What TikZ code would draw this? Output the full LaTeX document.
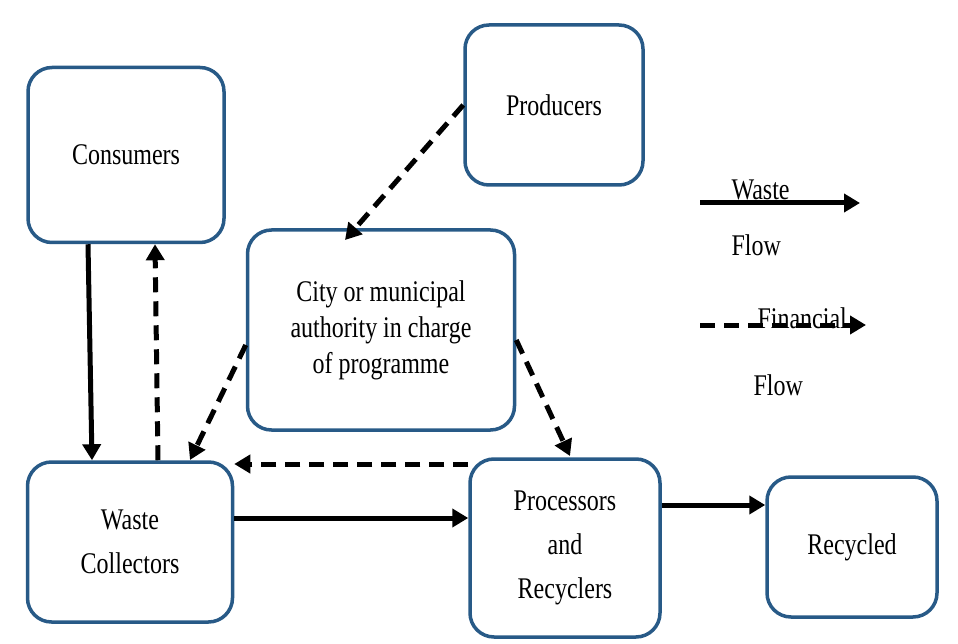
\documentclass[tikz,border=0pt]{standalone}
\usepackage{fontspec}
\setmainfont[FakeStretch=0.8]{Liberation Serif}
\usetikzlibrary{arrows.meta}
\definecolor{boxblue}{RGB}{40,90,135}
\begin{document}
\begin{tikzpicture}[x=1pt,y=-1pt]

\tikzset{
    box/.style = {draw=boxblue, line width=3.5pt, rounded corners=24pt,
    align=center, font=\fontsize{30}{44}\selectfont},
    label/.style = {font=\fontsize{30}{36}\selectfont, anchor=west},
    waste/.style = {line width=5pt, -{Triangle[length=16pt,width=18pt]}},
    money/.style = {waste, dash pattern=on 15pt off 9pt}
}

\useasboundingbox (0,0) rectangle (958,644);

\node (consumers) [box, minimum width=196pt, minimum height=175pt] at (126,155) {Consumers};
\node (producers) [box, minimum width=178pt, minimum height=160pt] at (554,105) {Producers};
\node (city) [box, minimum width=267pt, minimum height=200pt, font=\fontsize{30}{36}\selectfont] at (381,330) {City or municipal\\authority in charge\\of programme};
\node (collectors) [box, minimum width=205pt, minimum height=160pt] at (130,542) {Waste\\Collectors};
\node (processors) [box, minimum width=190pt, minimum height=178pt] at (565,548) {Processors\\and\\Recyclers};
\node (recycled) [box, minimum width=170pt, minimum height=140pt] at (852,547) {Recycled};

% flows
\draw [money] (producers.west |- 0,105) -- (345,240);
\draw [waste] ([xshift=-38pt]consumers.south) -- ([xshift=-38pt]collectors.north);
\draw [money] ([xshift=28pt]collectors.north) -- ([xshift=29pt]consumers.south);
\draw [money] (city.west |- 0,345) -- (190,460);
\draw [money] (city.east |- 0,340) -- (570,456);
\draw [money] (processors.west |- 0,464) -- (collectors.east |- 0,464);
\draw [waste] (collectors.east |- 0,518) -- (processors.west |- 0,518);
\draw [waste] (processors.east |- 0,505) -- (recycled.west |- 0,505);

% legend
\coordinate (w1) at (700,203);
\coordinate (w2) at (860,203);
\draw [waste] (w1) -- (w2);
\node (wlabel) [label] at (728,190) {Waste};
\node (wflow) [label] at (728,245) {Flow};
\coordinate (f1) at (700,325);
\coordinate (f2) at (866,325);
\draw [money] (f1) -- (f2);
\node (flabel) [label] at (754,318) {Financial};
\node (fflow) [label] at (750,385) {Flow};

\end{tikzpicture}
\end{document}
